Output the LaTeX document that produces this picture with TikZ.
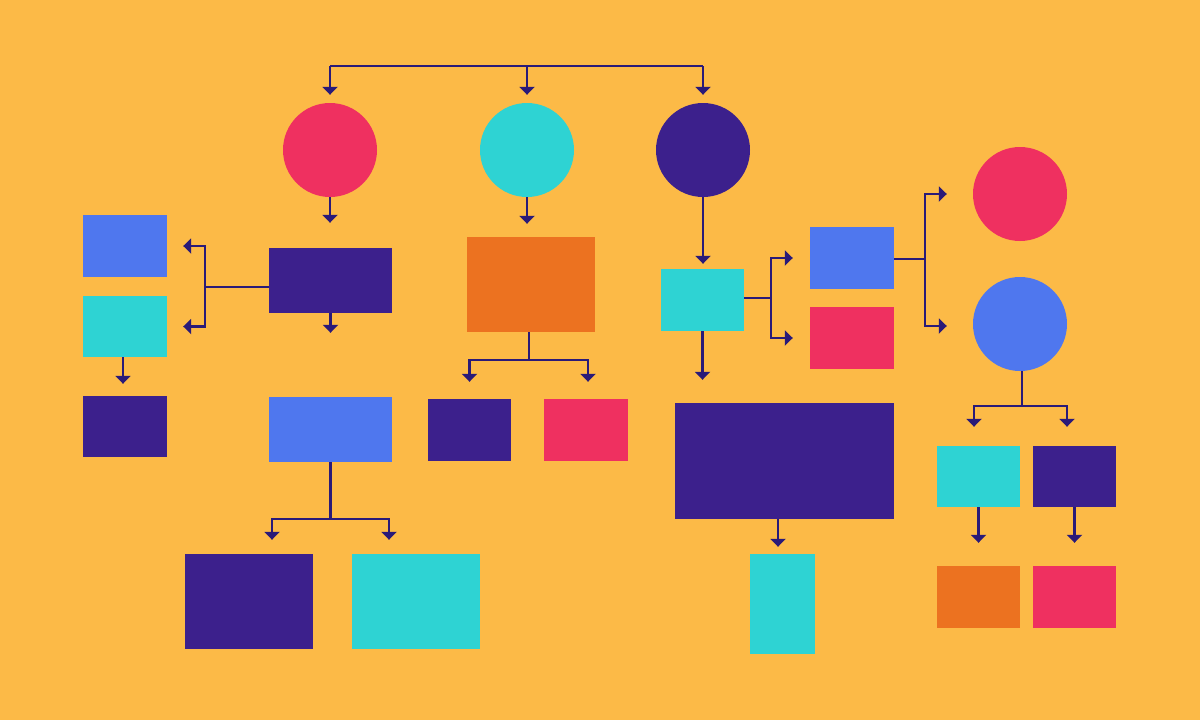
\documentclass[tikz,border=0pt]{standalone}
\usetikzlibrary{arrows.meta,calc}
\definecolor{bg}{RGB}{252,186,71}
\definecolor{cred}{RGB}{239,48,96}
\definecolor{ccyan}{RGB}{46,211,211}
\definecolor{cdark}{RGB}{60,32,140}
\definecolor{cblue}{RGB}{79,119,238}
\definecolor{corange}{RGB}{236,114,32}
\definecolor{cline}{RGB}{42,26,120}
\tikzset{
  circ/.style={circle,minimum size=94pt,inner sep=0pt,draw=none},
  box/.style={rectangle,inner sep=0pt,draw=none},
  conn/.style={draw=cline,line width=2.4pt},
  arr/.style={conn,-{Triangle[width=15pt,length=8pt]}}
}
\begin{document}
\begin{tikzpicture}[x=1pt,y=-1pt]
\fill[bg] (0,0) rectangle (1200,720);
\useasboundingbox (0,0) rectangle (1200,720);
% circles
\node[circ,fill=cred]  (c1) at (330,150) {};
\node[circ,fill=ccyan] (c2) at (527,150) {};
\node[circ,fill=cdark] (c3) at (703,150) {};
\node[circ,fill=cred]  (c4) at (1020,194) {};
\node[circ,fill=cblue] (c5) at (1020,324) {};
% boxes
\node[box,fill=cblue,minimum width=84pt,minimum height=62pt] (b1) at (125,246) {};
\node[box,fill=ccyan,minimum width=84pt,minimum height=61pt] (b2) at (125,326.5) {};
\node[box,fill=cdark,minimum width=84pt,minimum height=61pt] (b3) at (125,426.5) {};
\node[box,fill=cdark,minimum width=123pt,minimum height=65pt] (d1) at (330.5,280.5) {};
\node[box,fill=cblue,minimum width=123pt,minimum height=65pt] (bl2) at (330.5,429.5) {};
\node[box,fill=cdark,minimum width=128pt,minimum height=95pt] (bd) at (249,601.5) {};
\node[box,fill=ccyan,minimum width=128pt,minimum height=95pt] (bc) at (416,601.5) {};
\node[box,fill=corange,minimum width=128pt,minimum height=95pt] (or) at (531,284.5) {};
\node[box,fill=cdark,minimum width=83pt,minimum height=62pt] (sd) at (469.5,430) {};
\node[box,fill=cred,minimum width=84pt,minimum height=62pt] (sr) at (586,430) {};
\node[box,fill=ccyan,minimum width=83pt,minimum height=62pt] (cc) at (702.5,300) {};
\node[box,fill=cblue,minimum width=84pt,minimum height=62pt] (rb) at (852,258) {};
\node[box,fill=cred,minimum width=84pt,minimum height=62pt] (rr) at (852,338) {};
\node[box,fill=cdark,minimum width=219pt,minimum height=116pt] (big) at (784.5,461) {};
\node[box,fill=ccyan,minimum width=65pt,minimum height=100pt] (tc) at (782.5,604) {};
\node[box,fill=ccyan,minimum width=83pt,minimum height=61pt] (rc) at (978.5,476.5) {};
\node[box,fill=cdark,minimum width=83pt,minimum height=61pt] (rd) at (1074.5,476.5) {};
\node[box,fill=corange,minimum width=83pt,minimum height=62pt] (ro) at (978.5,597) {};
\node[box,fill=cred,minimum width=83pt,minimum height=62pt] (rr2) at (1074.5,597) {};
% junction coordinates
\coordinate (topL) at (330,66);
\coordinate (topR) at (703,66);
\coordinate (jL) at (205,287);
\coordinate (jB) at (330.5,519);
\coordinate (jO) at (529,360);
\coordinate (jC) at (771,298);
\coordinate (jR) at (925,259);
\coordinate (jP) at (1022,406);
% top bar
\draw[conn] (topL) -- (topR);
\draw[arr,shorten >=8pt] (topL) -- (c1.north);
\draw[arr,shorten >=8pt] (c2.north |- topL) -- (c2.north);
\draw[arr,shorten >=8pt] (topR) -- (c3.north);
% circles down
\draw[arr,shorten >=25pt] (c1.south) -- (c1.south |- d1.north);
\draw[arr,shorten >=13pt] (c2.south) -- (c2.south |- or.north);
\draw[arr,shorten >=5pt] (c3.south) -- (c3.south |- cc.north);
% left group
\draw[conn] (d1.west |- jL) -- (jL);
\draw[arr,shorten >=16pt] (jL) |- (b1.east);
\draw[arr,shorten >=16pt] (jL) |- (b2.east);
\draw[arr,shorten >=12pt] ([xshift=-2pt]b2.south) -- ([xshift=-2pt]b3.north);
\draw[arr,shorten >=64pt] (d1.south) -- (bl2.north);
% blue box 2 to bottom
\draw[conn] (bl2.south) -- (jB);
\draw[arr,shorten >=14pt] (jB) -| ([xshift=23pt]bd.north);
\draw[arr,shorten >=14pt] (jB) -| ([xshift=-27pt]bc.north);
% orange
\draw[conn] (jO |- or.south) -- (jO);
\draw[arr,shorten >=17pt] (jO) -| (sd.north);
\draw[arr,shorten >=17pt] (jO) -| ([xshift=2pt]sr.north);
% cyan centre box
\draw[conn] (cc.east |- jC) -- (jC);
\draw[arr,shorten >=17pt] (jC) |- (rb.west);
\draw[arr,shorten >=17pt] (jC) |- (rr.west);
\draw[arr,shorten >=23pt] (cc.south) -- (cc.south |- big.north);
% right blue box to circles
\draw[conn] (rb.east |- jR) -- (jR);
\draw[arr,shorten >=26pt] (jR) |- (c4.west);
\draw[arr,shorten >=26pt] (jR) |- ([yshift=-2pt]c5.west);
% big to tall
\draw[arr,shorten >=7pt] ([xshift=-4.5pt]tc.north |- big.south) -- ([xshift=-4.5pt]tc.north);
% blue circle to bottom right
\draw[conn] (jP |- c5.south) -- (jP);
\draw[arr,shorten >=19pt] (jP) -| ([xshift=-4.5pt]rc.north);
\draw[arr,shorten >=19pt] (jP) -| ([xshift=-7.5pt]rd.north);
\draw[arr,shorten >=23pt] (rc.south) -- (rc.south |- ro.north);
\draw[arr,shorten >=23pt] (rd.south) -- (rd.south |- rr2.north);
\end{tikzpicture}
\end{document}
